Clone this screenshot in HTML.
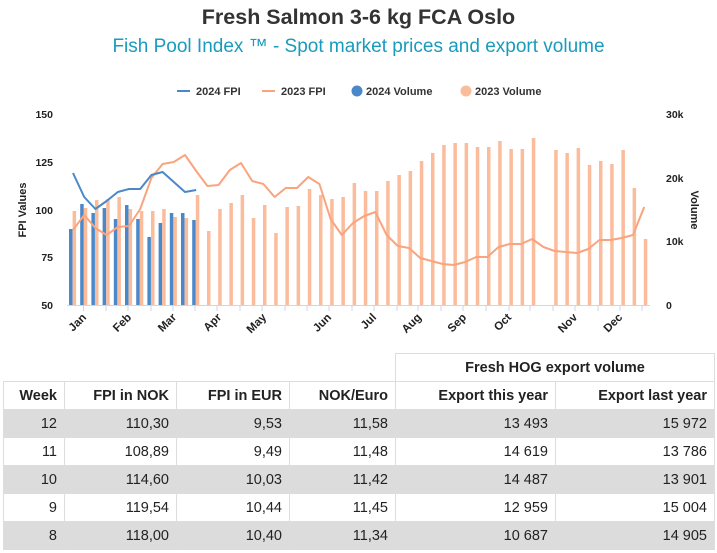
<!DOCTYPE html>
<html><head><meta charset="utf-8"><style>
body{margin:0;width:717px;height:553px;background:#fff;font-family:"Liberation Sans",Arial,sans-serif;overflow:hidden;position:relative}
.t1{position:absolute;top:5px;left:0;width:717px;text-align:center;font-size:21.5px;font-weight:bold;color:#333}
.t2{position:absolute;top:36px;left:0;width:717px;text-align:center;font-size:19px;color:#1a9bbd}
svg{position:absolute;left:0;top:0}
table{position:absolute;border-collapse:collapse;font-size:14.5px;color:#222}
td{border:1px solid #ddd;text-align:right;padding:0 7px 0 0;height:27px}
tr.g td{background:#dcdcdc}
th{border:1px solid #ddd;text-align:right;padding:0 7px 0 0;font-weight:bold;height:27px}
</style></head><body>
<div class="t1">Fresh Salmon 3-6 kg FCA Oslo</div>
<div class="t2">Fish Pool Index ™ - Spot market prices and export volume</div>
<svg width="717" height="345" font-family="Liberation Sans, Arial, sans-serif">
<g font-size="11" font-weight="bold" fill="#333">
<line x1="177" y1="91" x2="190" y2="91" stroke="#4a88c9" stroke-width="2"/><text x="196" y="95">2024 FPI</text>
<line x1="262" y1="91" x2="275" y2="91" stroke="#f9a47e" stroke-width="2"/><text x="281" y="95">2023 FPI</text>
<circle cx="357" cy="91" r="5.5" fill="#4a88c9"/><text x="366" y="95">2024 Volume</text>
<circle cx="466" cy="91" r="5.5" fill="#fbbc9c"/><text x="475" y="95">2023 Volume</text>
</g>
<g font-size="10.5" font-weight="bold" fill="#222" text-anchor="end">
<text x="53" y="118">150</text><text x="53" y="166">125</text><text x="53" y="214">100</text><text x="53" y="261">75</text><text x="53" y="309">50</text>
</g>
<g font-size="10.5" font-weight="bold" fill="#222">
<text x="666" y="118">30k</text><text x="666" y="182">20k</text><text x="666" y="245">10k</text><text x="666" y="309">0</text>
</g>
<text transform="translate(26,210) rotate(-90)" font-size="11" font-weight="bold" text-anchor="middle" fill="#222">FPI Values</text>
<text transform="translate(691,210) rotate(90)" font-size="11" font-weight="bold" text-anchor="middle" fill="#222">Volume</text>
<g fill="#fbbc9c">
<rect x="72.6" y="211" width="3.5" height="94"/><rect x="83.8" y="208" width="3.5" height="97"/><rect x="95" y="200" width="3.5" height="105"/><rect x="106.2" y="199" width="3.5" height="106"/><rect x="117.4" y="197" width="3.5" height="108"/><rect x="128.6" y="209" width="3.5" height="96"/><rect x="139.8" y="211" width="3.5" height="94"/><rect x="151" y="211" width="3.5" height="94"/><rect x="162.2" y="209" width="3.5" height="96"/><rect x="173.4" y="217" width="3.5" height="88"/><rect x="184.6" y="218" width="3.5" height="87"/><rect x="195.8" y="195" width="3.5" height="110"/><rect x="207" y="231" width="3.5" height="74"/><rect x="218.2" y="209" width="3.5" height="96"/><rect x="229.4" y="203" width="3.5" height="102"/><rect x="240.6" y="195" width="3.5" height="110"/><rect x="251.8" y="218" width="3.5" height="87"/><rect x="263" y="205" width="3.5" height="100"/><rect x="274.2" y="233" width="3.5" height="72"/><rect x="285.4" y="207" width="3.5" height="98"/><rect x="296.6" y="206" width="3.5" height="99"/><rect x="307.8" y="189" width="3.5" height="116"/><rect x="319" y="195" width="3.5" height="110"/><rect x="330.2" y="199" width="3.5" height="106"/><rect x="341.4" y="197" width="3.5" height="108"/><rect x="352.6" y="183" width="3.5" height="122"/><rect x="363.8" y="191" width="3.5" height="114"/><rect x="375" y="191" width="3.5" height="114"/><rect x="386.2" y="181" width="3.5" height="124"/><rect x="397.4" y="175" width="3.5" height="130"/><rect x="408.6" y="171" width="3.5" height="134"/><rect x="419.8" y="161" width="3.5" height="144"/><rect x="431" y="153" width="3.5" height="152"/><rect x="442.2" y="145" width="3.5" height="160"/><rect x="453.4" y="143" width="3.5" height="162"/><rect x="464.6" y="143" width="3.5" height="162"/><rect x="475.8" y="147" width="3.5" height="158"/><rect x="487" y="147" width="3.5" height="158"/><rect x="498.2" y="141" width="3.5" height="164"/><rect x="509.4" y="149" width="3.5" height="156"/><rect x="520.6" y="149" width="3.5" height="156"/><rect x="531.8" y="138" width="3.5" height="167"/><rect x="554.2" y="150" width="3.5" height="155"/><rect x="565.4" y="153" width="3.5" height="152"/><rect x="576.6" y="148" width="3.5" height="157"/><rect x="587.8" y="165" width="3.5" height="140"/><rect x="599" y="161" width="3.5" height="144"/><rect x="610.2" y="164" width="3.5" height="141"/><rect x="621.4" y="150" width="3.5" height="155"/><rect x="632.6" y="188" width="3.5" height="117"/><rect x="643.8" y="239" width="3.5" height="66"/>
</g>
<g fill="#4a88c9">
<rect x="69" y="229" width="3.5" height="76"/><rect x="80.2" y="204" width="3.5" height="101"/><rect x="91.4" y="213" width="3.5" height="92"/><rect x="102.6" y="208" width="3.5" height="97"/><rect x="113.8" y="219" width="3.5" height="86"/><rect x="125" y="205" width="3.5" height="100"/><rect x="136.2" y="219" width="3.5" height="86"/><rect x="147.4" y="237" width="3.5" height="68"/><rect x="158.6" y="223" width="3.5" height="82"/><rect x="169.8" y="213" width="3.5" height="92"/><rect x="181" y="213" width="3.5" height="92"/><rect x="192.2" y="220" width="3.5" height="85"/>
</g>
<polyline fill="none" stroke="#f9a47e" stroke-width="2" stroke-linejoin="round" points="73,230 84.2,215 95.4,228 106.6,235 117.8,227 129,226 140.2,209 151.4,178 162.6,164 173.8,162 185,155 196.2,171 207.4,186 218.6,185 229.8,170 241,163 252.2,181 263.4,184 274.6,197 285.8,188 297,188 308.2,177 319.4,184 330.6,219 341.8,235 353,223 364.2,216 375.4,212 386.6,235 397.8,246 409,248 420.2,258 431.4,261 442.6,264 453.8,265 465,262 476.2,257 487.4,257 498.6,247 509.8,244 521,244 532.2,239 543.4,247 554.6,251 565.8,252 577,253 588.2,249 599.4,240 610.6,240 621.8,238 633,235 644.2,207"/>
<polyline fill="none" stroke="#4a88c9" stroke-width="2" stroke-linejoin="round" points="73,173 84.2,197 95.4,209 106.6,201 117.8,192 129,189 140.2,189 151.4,175 162.6,172 173.8,182 185,192 196.2,190"/>
<line x1="67" y1="305.5" x2="650" y2="305.5" stroke="#ccd6eb" stroke-width="1"/>
<g stroke="#ccd6eb">
<path d="M83.5 305v6M106 305v6M128 305v6M151 305v6M173 305v6M195 305v6M217 305v6M240 305v6M262 305v6M285 305v6M307 305v6M329 305v6M352 305v6M374 305v6M397 305v6M418 305v6M441 305v6M463 305v6M486 305v6M509 305v6M530 305v6M553 305v6M575 305v6M598 305v6M620 305v6M642 305v6"/>
</g>
<g font-size="11.5" font-weight="bold" fill="#222" text-anchor="end">
<text transform="translate(87,318) rotate(-45)">Jan</text>
<text transform="translate(132,318) rotate(-45)">Feb</text>
<text transform="translate(177,318) rotate(-45)">Mar</text>
<text transform="translate(222,318) rotate(-45)">Apr</text>
<text transform="translate(267,318) rotate(-45)">May</text>
<text transform="translate(332,318) rotate(-45)">Jun</text>
<text transform="translate(377,318) rotate(-45)">Jul</text>
<text transform="translate(422,318) rotate(-45)">Aug</text>
<text transform="translate(467,318) rotate(-45)">Sep</text>
<text transform="translate(512,318) rotate(-45)">Oct</text>
<text transform="translate(578,318) rotate(-45)">Nov</text>
<text transform="translate(623,318) rotate(-45)">Dec</text>
</g>
</svg>
<table style="left:395px;top:353px;width:320px">
<tr><th style="text-align:center;padding:0;height:27px">Fresh HOG export volume</th></tr>
</table>
<table style="left:3px;top:381px;width:712px">
<tr><th style="width:53px">Week</th><th style="width:104px">FPI in NOK</th><th style="width:105px">FPI in EUR</th><th style="width:98px">NOK/Euro</th><th style="width:152px">Export this year</th><th>Export last year</th></tr>
<tr class="g"><td>12</td><td>110,30</td><td>9,53</td><td>11,58</td><td>13 493</td><td>15 972</td></tr>
<tr><td>11</td><td>108,89</td><td>9,49</td><td>11,48</td><td>14 619</td><td>13 786</td></tr>
<tr class="g"><td>10</td><td>114,60</td><td>10,03</td><td>11,42</td><td>14 487</td><td>13 901</td></tr>
<tr><td>9</td><td>119,54</td><td>10,44</td><td>11,45</td><td>12 959</td><td>15 004</td></tr>
<tr class="g"><td>8</td><td>118,00</td><td>10,40</td><td>11,34</td><td>10 687</td><td>14 905</td></tr>
</table>
</body></html>
